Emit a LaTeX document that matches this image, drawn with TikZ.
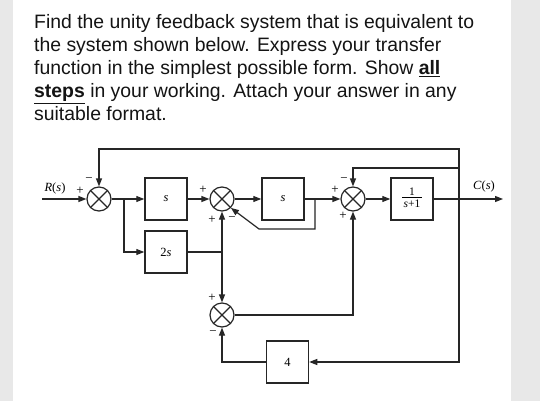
\documentclass[tikz,border=0pt]{standalone}
\usepackage{fontspec}
\setmainfont{Liberation Sans}
\newfontfamily\dfont{Liberation Serif}
\usetikzlibrary{arrows.meta,calc}
\tikzset{
  wire/.style={line width=1.2pt, draw=black!85},
  arr/.style={wire, -{Triangle[length=8pt,width=6pt]}},
  blk/.style={draw=black!85, line width=1.5pt, minimum width=42pt, minimum height=42pt, inner sep=0pt, font=\dfont\fontsize{12.5}{14}\selectfont},
  sumj/.style={circle, draw=black!85, line width=1.2pt, minimum size=24pt, inner sep=0pt,
    path picture={\draw[line width=1.1pt] (path picture bounding box.north west)--(path picture bounding box.south east)
      (path picture bounding box.north east)--(path picture bounding box.south west);}},
  sgn/.style={font=\dfont\fontsize{13}{13}\selectfont, inner sep=0pt},
  lbl/.style={font=\dfont\fontsize{12.5}{14}\selectfont, inner sep=0pt},
  qtext/.style={anchor=base west, inner sep=0pt, font=\fontsize{19.4}{22}\selectfont, text=black!92}
}
\begin{document}
\begin{tikzpicture}[x=1pt,y=-1pt]
\fill[black!9] (0,0) rectangle (540,401);
\fill[white] (13,0) rectangle (511,401);
\useasboundingbox (0,0) rectangle (540,401);
% question text
\node[qtext] (t1) at (34,28.5) {Find the unity feedback system that is equivalent to};
\node[qtext] (t2) at (34,51.5) {the system shown below. Express your transfer};
\node[qtext] (t3) at (34,74.5) {function in the simplest possible form. Show \underline{\textbf{all}}};
\node[qtext] (t4) at (34,97.5) {\underline{\textbf{steps}} in your working. Attach your answer in any};
\node[qtext] (t5) at (34,120.5) {suitable format.};
% blocks and junctions
\node[sumj] (s1) at (99,199) {};
\node[blk] (b1) at (166,199) {\itshape s};
\node[blk] (b2) at (166,252) {2\itshape s};
\node[sumj] (s2) at (222,199) {};
\node[blk] (b3) at (283,199) {\itshape s};
\node[sumj] (s3) at (353,199) {};
\node[blk] (b4) at (412,199) {\fontsize{11.5}{13}\selectfont\setlength{\tabcolsep}{1.5pt}\begin{tabular}{c}1\\[-2pt]\hline\rule{0pt}{10pt}\textit{s}+1\end{tabular}};
\node[sumj] (s4) at (222,315) {};
\node[blk] (b5) at (287.5,362) {4};
\coordinate (in) at (42,199);
\coordinate (out) at (503,199);
\coordinate (br1) at (124,199);
\coordinate (br2) at (315,199);
\coordinate (br3) at (459,199);
\coordinate (top) at (459,149);
\coordinate (mid) at (459,168);
\coordinate (j) at (222,252);
\coordinate (d1) at (315,229);
\coordinate (d2) at (259,229);
% connectors
\draw[arr] (in) -- (s1.west);
\draw[arr] (s1.east) -- (b1.west);
\draw[arr] (br1) |- (b2.west);
\draw[arr] (b1.east) -- (s2.west);
\draw[arr] (s2.east) -- (b3.west);
\draw[arr] (b3.east) -- (s3.west);
\draw[arr] (s3.east) -- (b4.west);
\draw[arr] (b4.east) -- (out);
\draw[arr] (br3) -- (top) -| (s1.north);
\draw[arr] (mid) -| (s3.north);
\draw[arr] (br3) |- (b5.east);
\draw[arr] (b5.west) -| (s4.south);
\draw[wire] (b2.east) -- (j);
\draw[arr] (j) -- (s2.south);
\draw[arr] (j) -- (s4.north);
\draw[arr] (s4.east) -| (s3.south);
\draw[arr] (br2) -- (d1) -- (d2) -- (s2.south east);
% labels
\node[lbl] (lr) at (55,188) {\textit{R}(\textit{s})};
\node[lbl] (lc) at (484,186) {\textit{C}(\textit{s})};
\node[sgn] (p1) at (80,191) {+};
\node[sgn] (m1) at (89,180) {\textminus};
\node[sgn] (p2) at (203,190) {+};
\node[sgn] (p2b) at (212,220) {+};
\node[sgn] (m2) at (232,219) {\textminus};
\node[sgn] (p3) at (335,190) {+};
\node[sgn] (m3) at (344,180) {\textminus};
\node[sgn] (p3b) at (343,216) {+};
\node[sgn] (p4) at (212,298) {+};
\node[sgn] (m4) at (213,333) {\textminus};
\end{tikzpicture}
\end{document}
